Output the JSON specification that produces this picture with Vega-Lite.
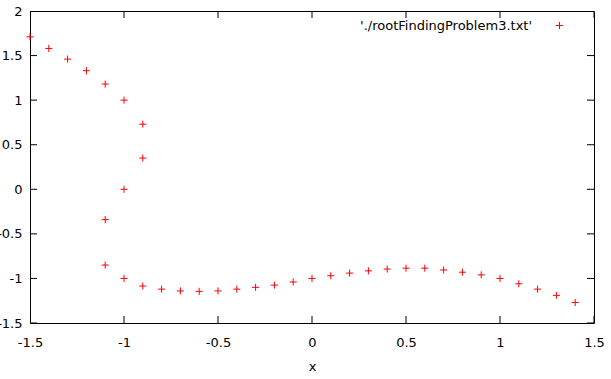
{
  "$schema": "https://vega.github.io/schema/vega-lite/v6.json",
  "width": 564,
  "height": 312,
  "autosize": {"type": "none"},
  "padding": {"left": 30, "top": 11, "right": 17, "bottom": 56},
  "background": "white",
  "config": {
    "font": "DejaVu Sans",
    "view": {"stroke": "black", "strokeWidth": 1}
  },
  "datasets": {
    "xticks": [{"x": -1.5}, {"x": -1}, {"x": -0.5}, {"x": 0}, {"x": 0.5}, {"x": 1}, {"x": 1.5}],
    "yticks": [{"y": -1.5}, {"y": -1}, {"y": -0.5}, {"y": 0}, {"y": 0.5}, {"y": 1}, {"y": 1.5}, {"y": 2}]
  },
  "layer": [
    {
      "data": {
        "values": [
          {"x": -1.5, "y": 1.71, "series": "'./rootFindingProblem3.txt'"},
          {"x": -1.4, "y": 1.58, "series": "'./rootFindingProblem3.txt'"},
          {"x": -1.3, "y": 1.46, "series": "'./rootFindingProblem3.txt'"},
          {"x": -1.2, "y": 1.33, "series": "'./rootFindingProblem3.txt'"},
          {"x": -1.1, "y": 1.18, "series": "'./rootFindingProblem3.txt'"},
          {"x": -1.0, "y": 1.0, "series": "'./rootFindingProblem3.txt'"},
          {"x": -0.9, "y": 0.73, "series": "'./rootFindingProblem3.txt'"},
          {"x": -0.9, "y": 0.35, "series": "'./rootFindingProblem3.txt'"},
          {"x": -1.0, "y": 0.0, "series": "'./rootFindingProblem3.txt'"},
          {"x": -1.1, "y": -0.34, "series": "'./rootFindingProblem3.txt'"},
          {"x": -1.1, "y": -0.85, "series": "'./rootFindingProblem3.txt'"},
          {"x": -1.0, "y": -1.0, "series": "'./rootFindingProblem3.txt'"},
          {"x": -0.9, "y": -1.085, "series": "'./rootFindingProblem3.txt'"},
          {"x": -0.8, "y": -1.12, "series": "'./rootFindingProblem3.txt'"},
          {"x": -0.7, "y": -1.14, "series": "'./rootFindingProblem3.txt'"},
          {"x": -0.6, "y": -1.145, "series": "'./rootFindingProblem3.txt'"},
          {"x": -0.5, "y": -1.14, "series": "'./rootFindingProblem3.txt'"},
          {"x": -0.4, "y": -1.12, "series": "'./rootFindingProblem3.txt'"},
          {"x": -0.3, "y": -1.1, "series": "'./rootFindingProblem3.txt'"},
          {"x": -0.2, "y": -1.075, "series": "'./rootFindingProblem3.txt'"},
          {"x": -0.1, "y": -1.04, "series": "'./rootFindingProblem3.txt'"},
          {"x": 0.0, "y": -1.0, "series": "'./rootFindingProblem3.txt'"},
          {"x": 0.1, "y": -0.97, "series": "'./rootFindingProblem3.txt'"},
          {"x": 0.2, "y": -0.94, "series": "'./rootFindingProblem3.txt'"},
          {"x": 0.3, "y": -0.915, "series": "'./rootFindingProblem3.txt'"},
          {"x": 0.4, "y": -0.895, "series": "'./rootFindingProblem3.txt'"},
          {"x": 0.5, "y": -0.885, "series": "'./rootFindingProblem3.txt'"},
          {"x": 0.6, "y": -0.885, "series": "'./rootFindingProblem3.txt'"},
          {"x": 0.7, "y": -0.905, "series": "'./rootFindingProblem3.txt'"},
          {"x": 0.8, "y": -0.93, "series": "'./rootFindingProblem3.txt'"},
          {"x": 0.9, "y": -0.96, "series": "'./rootFindingProblem3.txt'"},
          {"x": 1.0, "y": -1.0, "series": "'./rootFindingProblem3.txt'"},
          {"x": 1.1, "y": -1.06, "series": "'./rootFindingProblem3.txt'"},
          {"x": 1.2, "y": -1.12, "series": "'./rootFindingProblem3.txt'"},
          {"x": 1.3, "y": -1.19, "series": "'./rootFindingProblem3.txt'"},
          {"x": 1.4, "y": -1.27, "series": "'./rootFindingProblem3.txt'"}
        ]
      },
      "mark": {"type": "point", "shape": "M-1,0H1M0,-1V1", "filled": false, "strokeWidth": 1, "size": 50, "opacity": 1},
      "encoding": {
        "x": {
          "field": "x", "type": "quantitative",
          "scale": {"domain": [-1.5, 1.5], "nice": false, "zero": false},
          "axis": {"orient": "bottom", "tickCount": 6, "domain": false, "grid": false,
                   "ticks": true, "tickSize": 0, "labelFlush": false,
                   "labelExpr": "datum.value + ''", "labelFont": "DejaVu Sans", "labelFontSize": 13, "labelColor": "black", "labelPadding": 13,
                   "title": "x", "titleFont": "DejaVu Sans", "titleFontSize": 13, "titleFontWeight": "normal", "titleColor": "black", "titlePadding": 11}
        },
        "y": {
          "field": "y", "type": "quantitative",
          "scale": {"domain": [-1.5, 2], "nice": false, "zero": false},
          "axis": {"orient": "left", "tickCount": 7, "domain": false, "grid": false,
                   "ticks": true, "tickSize": 0, "labelFlush": false,
                   "labelExpr": "datum.value + ''", "labelFont": "DejaVu Sans", "labelFontSize": 13, "labelColor": "black", "labelPadding": 8,
                   "title": null}
        },
        "color": {
          "field": "series", "type": "nominal",
          "scale": {"range": ["#ff0000"]},
          "legend": {
            "orient": "none", "legendX": 523, "legendY": 8, "title": null, "padding": 0,
            "symbolType": "M-1,0H1M0,-1V1", "symbolSize": 50, "symbolStrokeWidth": 1,
            "labelAlign": "right", "labelOffset": -34, "labelLimit": 0,
            "labelFont": "DejaVu Sans", "labelFontSize": 13, "labelColor": "black"
          }
        }
      }
    },
    {
      "data": {"name": "xticks"},
      "mark": {"type": "tick", "orient": "vertical", "size": 14, "thickness": 1, "color": "black", "opacity": 1, "clip": true},
      "encoding": {
        "x": {"field": "x", "type": "quantitative"},
        "y": {"datum": -1.5, "type": "quantitative"}
      }
    },
    {
      "data": {"name": "xticks"},
      "mark": {"type": "tick", "orient": "vertical", "size": 14, "thickness": 1, "color": "black", "opacity": 1, "clip": true},
      "encoding": {
        "x": {"field": "x", "type": "quantitative"},
        "y": {"datum": 2, "type": "quantitative"}
      }
    },
    {
      "data": {"name": "yticks"},
      "mark": {"type": "tick", "orient": "horizontal", "size": 14, "thickness": 1, "color": "black", "opacity": 1, "clip": true},
      "encoding": {
        "y": {"field": "y", "type": "quantitative"},
        "x": {"datum": -1.5, "type": "quantitative"}
      }
    },
    {
      "data": {"name": "yticks"},
      "mark": {"type": "tick", "orient": "horizontal", "size": 14, "thickness": 1, "color": "black", "opacity": 1, "clip": true},
      "encoding": {
        "y": {"field": "y", "type": "quantitative"},
        "x": {"datum": 1.5, "type": "quantitative"}
      }
    }
  ]
}
